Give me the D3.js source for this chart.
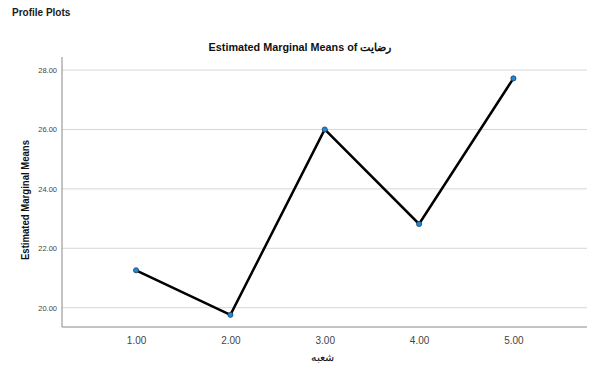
<!DOCTYPE html>
<html><head><meta charset="utf-8">
<script src="https://cdn.jsdelivr.net/npm/d3@7"></script>
<style>body{margin:0;background:#fff}</style>
</head><body>
<script>
const categories = [1, 2, 3, 4, 5];
const xTickLabels = ["1.00", "2.00", "3.00", "4.00", "5.00"];
const meanValues = [21.26, 19.76, 26.0, 22.82, 27.72];
const yTicks = [20, 22, 24, 26, 28];
const yTickLabels = ["20.00", "22.00", "24.00", "26.00", "28.00"];

(function () {
const W = 600, H = 384;
const pLeft = 62, pRight = 587, pTop = 57, pBottom = 327;
const svg = d3.select("body").append("svg").attr("width", W).attr("height", H)
  .style("font-family", "'Liberation Sans', Arial, sans-serif");

const x = d3.scaleLinear().domain([0.215, 5.78]).range([pLeft, pRight]);
const y = d3.scaleLinear().domain([19.35, 28.44]).range([pBottom, pTop]);

svg.append("text").attr("x", 12).attr("y", 16).attr("font-size", 10).attr("font-weight", "bold")
  .attr("fill", "#1a1a1a").text("Profile Plots");

svg.append("text").attr("x", 300).attr("y", 51).attr("text-anchor", "middle")
  .attr("font-size", 10.8).attr("font-weight", "bold").attr("fill", "#111")
  .text("Estimated Marginal Means of رضایت");

// gridlines
svg.append("g").selectAll("line").data(yTicks).join("line")
  .attr("x1", pLeft).attr("x2", pRight)
  .attr("y1", d => y(d)).attr("y2", d => y(d))
  .attr("stroke", "#d6d6d6").attr("stroke-width", 1);

// y axis
const yAxis = d3.axisLeft(y).tickValues(yTicks).tickSize(0).tickPadding(5)
  .tickFormat((d, i) => yTickLabels[i]);
const gy = svg.append("g").attr("transform", `translate(${pLeft},0)`).call(yAxis);
gy.select(".domain").remove();
gy.selectAll("text").attr("font-size", 7.5).attr("fill", "#444").style("font-family", "'Liberation Sans', Arial, sans-serif");

// x axis
const xAxis = d3.axisBottom(x).tickValues(categories).tickSize(0).tickPadding(9.5)
  .tickFormat((d, i) => xTickLabels[i]);
const gx = svg.append("g").attr("transform", `translate(0,${pBottom})`).call(xAxis);
gx.select(".domain").remove();
gx.selectAll("text").attr("font-size", 10).attr("fill", "#444").style("font-family", "'Liberation Sans', Arial, sans-serif");

// axis lines
svg.append("line").attr("x1", pLeft).attr("x2", pLeft).attr("y1", pTop).attr("y2", pBottom)
  .attr("stroke", "#888").attr("stroke-width", 1);
svg.append("line").attr("x1", pLeft).attr("x2", pRight).attr("y1", pBottom).attr("y2", pBottom)
  .attr("stroke", "#888").attr("stroke-width", 1);

svg.append("text").attr("transform", `translate(29,200) rotate(-90)`)
  .attr("text-anchor", "middle").attr("font-size", 11.5).attr("font-weight", "bold")
  .attr("textLength", 120).attr("lengthAdjust", "spacingAndGlyphs")
  .attr("fill", "#111").text("Estimated Marginal Means");

svg.append("text").attr("x", x(3) - 2).attr("y", 361).attr("text-anchor", "middle")
  .attr("font-size", 10.5).attr("fill", "#111").text("شعبه");

const data = categories.map((c, i) => ({c, v: meanValues[i]}));
svg.append("path").datum(data)
  .attr("d", d3.line().x(d => x(d.c)).y(d => y(d.v)))
  .attr("fill", "none").attr("stroke", "#000").attr("stroke-width", 2.5).attr("stroke-linejoin", "miter");

svg.append("g").selectAll("circle").data(data).join("circle")
  .attr("cx", d => x(d.c)).attr("cy", d => y(d.v)).attr("r", 2.6)
  .attr("fill", "#1e88d8").attr("stroke", "#1a3550").attr("stroke-width", 0.7);
})();
</script>
</body></html>
